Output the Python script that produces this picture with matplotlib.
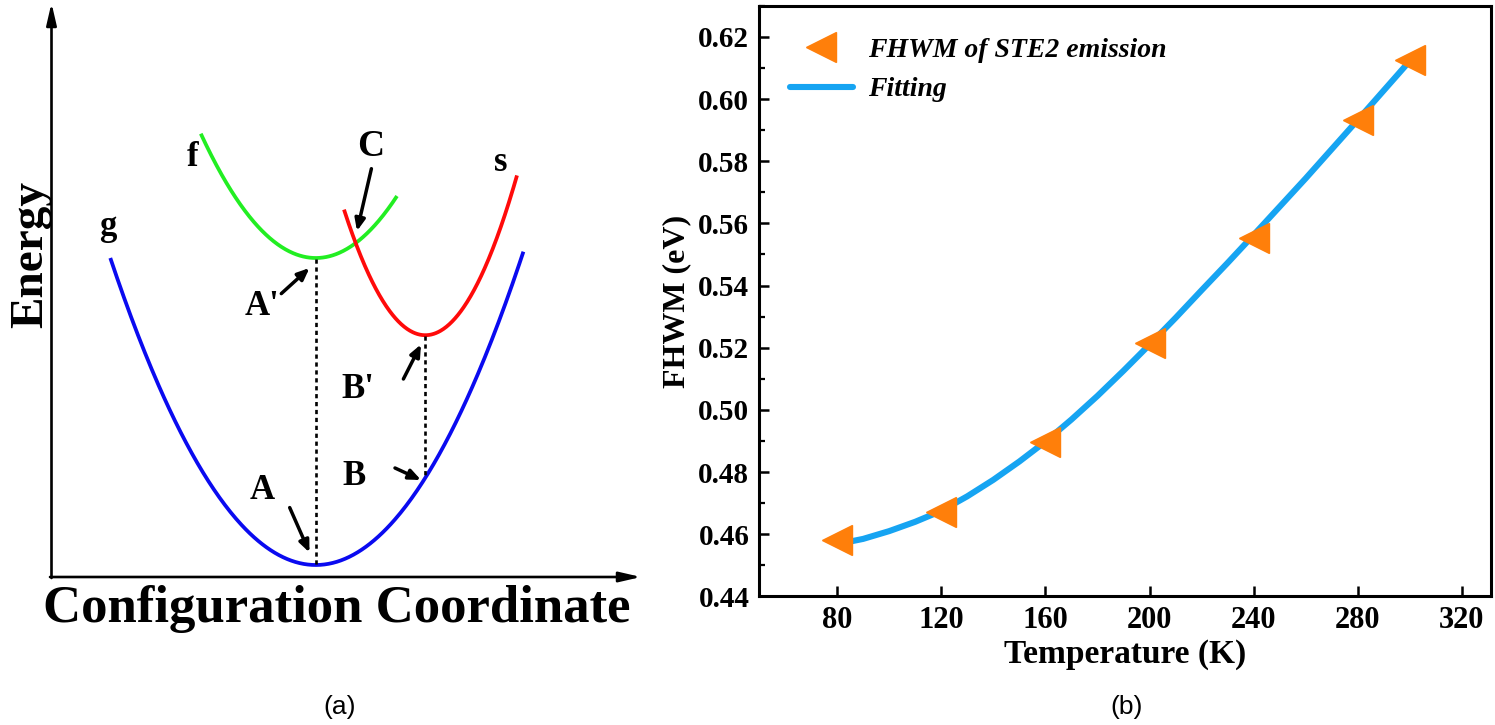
import matplotlib
matplotlib.use("Agg")
import matplotlib.pyplot as plt
import numpy as np
from matplotlib.ticker import MultipleLocator, FixedLocator

# ---------------- data: panel (b) ----------------
temperature_K = [80, 120, 160, 200, 240, 280, 300]
fwhm_eV = [0.4580, 0.4671, 0.4898, 0.5215, 0.5553, 0.5932, 0.6126]
fit_T = [80, 90, 100, 110, 120, 130, 140, 150, 160, 170, 180, 190, 200,
         210, 220, 230, 240, 250, 260, 270, 280, 290, 300]
fit_fwhm = [0.4568, 0.4585, 0.4610, 0.4640, 0.4675, 0.4722, 0.4775, 0.4834,
            0.4898, 0.4969, 0.5045, 0.5126, 0.5210, 0.5296, 0.5385, 0.5473,
            0.5563, 0.5654, 0.5745, 0.5839, 0.5933, 0.6028, 0.6123]
x_ticks = [80, 120, 160, 200, 240, 280, 320]
y_ticks = [0.44, 0.46, 0.48, 0.50, 0.52, 0.54, 0.56, 0.58, 0.60, 0.62]
legend_labels = ["FHWM of STE2 emission", "Fitting"]

# ---------------- schematic: panel (a) ----------------
# parabolas: name, vertex x, vertex y, curvature, x start, x end (pixel-like units, y downward)
curve_names = ["g", "f", "s"]
curve_vx = [315.8, 315.8, 425.3]
curve_vy = [565.0, 258.0, 335.2]
curve_a = [0.00727, 0.0094, 0.0190]
curve_x0 = [110.3, 200.8, 344.0]
curve_x1 = [523.4, 397.0, 517.0]
curve_colors = ["#0A0AF0", "#22EE22", "#FF0A0A"]

SERIF = ["Liberation Serif", "DejaVu Serif"]

fig = plt.figure(figsize=(14.95, 7.25), dpi=100)

# ================= panel (a) =================
axa = fig.add_axes([0, 0, 660 / 1495, 1])
axa.set_xlim(0, 660)
axa.set_ylim(725, 0)
axa.axis("off")

for vx, vy, a, x0, x1, c in zip(curve_vx, curve_vy, curve_a, curve_x0, curve_x1, curve_colors):
    xs = np.linspace(x0, x1, 300)
    ys = vy - a * (xs - vx) ** 2
    axa.plot(xs, ys, color=c, lw=2.7, solid_capstyle="butt")

# coordinate axes with arrows
axa.annotate("", xy=(51.5, 3), xytext=(51.5, 578),
             arrowprops=dict(arrowstyle="-|>,head_length=1.3,head_width=0.3", lw=1.9, color="black",
                             shrinkA=0, shrinkB=0))
axa.annotate("", xy=(641, 577), xytext=(50, 577),
             arrowprops=dict(arrowstyle="-|>,head_length=1.3,head_width=0.3", lw=1.9, color="black",
                             shrinkA=0, shrinkB=0))

# dashed verticals
axa.plot([315.8, 315.8], [259, 565], color="black", lw=1.9, ls=(0, (1.6, 1.4)))
def gy(x):
    return curve_vy[0] - curve_a[0] * (x - curve_vx[0]) ** 2
axa.plot([425.3, 425.3], [336, gy(425.3)], color="black", lw=1.9, ls=(0, (1.6, 1.4)))

# labels
lab_kw = dict(fontfamily=SERIF, fontweight="bold", fontsize=25, color="black",
              ha="center", va="center")
axa.text(107.5, 226, "g", **lab_kw)
axa.text(192.5, 157, "f", **lab_kw)
axa.text(501, 162, "s", **lab_kw)
axa.text(370.5, 146, "C", fontfamily=SERIF, fontweight="bold", fontsize=27, ha="center", va="center")
axa.text(262, 306, "A'", **lab_kw)
axa.text(358, 389, "B'", **lab_kw)
axa.text(262, 490, "A", **lab_kw)
axa.text(354, 476, "B", **lab_kw)

# pointer arrows
arrows = [((371.4, 168.7), (357.0, 231.0)),
          ((281.3, 293.6), (309.5, 268.0)),
          ((403.4, 379.0), (421.0, 344.4)),
          ((395.0, 468.0), (421.0, 480.0)),
          ((289.7, 507.6), (309.5, 552.5))]
for (sx, sy), (tx, ty) in arrows:
    axa.annotate("", xy=(tx, ty), xytext=(sx, sy),
                 arrowprops=dict(arrowstyle="-|>,head_length=0.7,head_width=0.3", lw=2.5,
                                 color="black", shrinkA=0, shrinkB=0))

axa.text(42, 254, "Energy", rotation=90, rotation_mode="anchor", fontfamily=SERIF,
         fontweight="bold", fontsize=34, ha="center", va="baseline")
axa.text(337, 609, "Configuration Coordinate", fontfamily=SERIF, fontweight="bold", fontsize=38,
         ha="center", va="center")
axa.text(340, 707, "(a)", fontfamily=["Liberation Sans", "DejaVu Sans"], fontsize=19,
         ha="center", va="center")

# ================= panel (b) =================
axb = fig.add_axes([759 / 1495, 1 - 596.4 / 725, (1490.6 - 759) / 1495, (596.4 - 5.5) / 725])
line_fit, = axb.plot(fit_T, fit_fwhm, color="#16A4F2", lw=4.4, solid_capstyle="round",
                     solid_joinstyle="round", zorder=2)
pts, = axb.plot(temperature_K, fwhm_eV, ls="none", marker="<", ms=21, color="#FF7F0A",
                mec="#FF7F0A", zorder=3)

axb.set_xlim(50, 331)
axb.set_ylim(0.44, 0.6301)
axb.xaxis.set_major_locator(FixedLocator(x_ticks))
axb.yaxis.set_major_locator(FixedLocator(y_ticks))
axb.yaxis.set_minor_locator(MultipleLocator(0.01))
axb.set_xticklabels([str(t) for t in x_ticks])
axb.set_yticklabels([f"{t:.2f}" for t in y_ticks])
axb.tick_params(which="major", direction="in", length=7.5, width=1.8, pad=7,
                top=False, right=False)
axb.tick_params(axis="x", labelsize=22)
axb.tick_params(axis="y", labelsize=21)
axb.tick_params(which="minor", direction="in", length=4, width=1.6, top=False, right=False)
for lab in axb.get_xticklabels() + axb.get_yticklabels():
    lab.set_fontfamily(SERIF)
    lab.set_fontweight("bold")
for sp in axb.spines.values():
    sp.set_linewidth(2.2)

axb.set_xlabel("Temperature (K)", fontfamily=SERIF, fontweight="bold", fontsize=24, labelpad=3)
axb.set_ylabel("FHWM (eV)", fontfamily=SERIF, fontweight="bold", fontsize=23, labelpad=5)

leg = axb.legend([pts, line_fit], legend_labels, loc="upper left",
                 bbox_to_anchor=(31 / 731.6, 1 - 32 / 590.9), frameon=False,
                 borderaxespad=0, borderpad=0, handlelength=2.25, handletextpad=0.55,
                 labelspacing=0.5,
                 prop=dict(family=SERIF, weight="bold", style="italic", size=20))

fig.text(1127 / 1495, 1 - 707 / 725, "(b)", fontfamily=["Liberation Sans", "DejaVu Sans"],
         fontsize=19, ha="center", va="center")

fig.savefig("out.png", dpi=100)
